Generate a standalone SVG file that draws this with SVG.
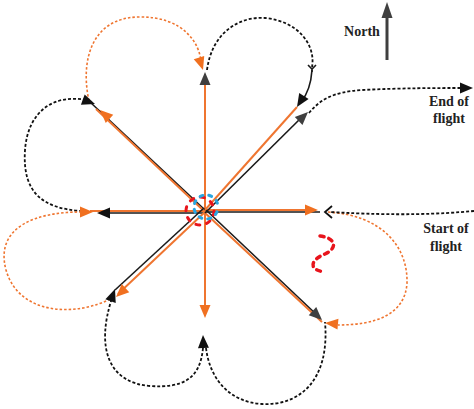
<svg xmlns="http://www.w3.org/2000/svg" xmlns:xlink="http://www.w3.org/1999/xlink" width="474" height="409" viewBox="0 0 474 409">
<style>
.or{stroke:#EF7530;stroke-width:2;fill:none}
.bk{stroke:#1a1a1a;stroke-width:1.6;fill:none}
.od{stroke:#EF7530;stroke-width:1.6;fill:none;stroke-dasharray:2.5 2}
.kd{stroke:#111;stroke-width:1.8;fill:none;stroke-dasharray:3 2}
.ko{fill:#111}
.gy{fill:#3f3f3f}
.oa{fill:#F07020}
.lbl{font-family:"Liberation Serif",serif;font-weight:bold;font-size:14px;fill:#222;text-anchor:middle}
</style>
<defs>
<path id="tri" d="M0,0 L-13,-5.5 L-13,5.5 Z"/>
</defs>
<rect width="474" height="409" fill="#fff"/>
<g id="connectors">
<!-- spokes -->
<line class="or" x1="205" y1="210" x2="205" y2="74"/>
<line class="or" x1="205" y1="210" x2="205" y2="310"/>
<line class="bk" x1="205" y1="213" x2="100" y2="213"/>
<line class="or" x1="205" y1="211" x2="90" y2="211"/>
<line class="bk" x1="205" y1="212" x2="320" y2="212"/>
<line class="or" x1="205" y1="210" x2="308" y2="210"/>
<line class="bk" x1="205" y1="210" x2="90" y2="102"/>
<line class="or" x1="206" y1="213" x2="96" y2="109"/>
<line class="bk" x1="204" y1="208" x2="115" y2="290"/>
<line class="or" x1="206" y1="211" x2="118" y2="294"/>
<line class="bk" x1="205" y1="209" x2="318" y2="316"/>
<line class="or" x1="204" y1="212" x2="322" y2="322"/>
<line class="or" x1="205" y1="210" x2="297" y2="107"/>
<line class="bk" x1="205" y1="213" x2="302" y2="117"/>
<!-- loops -->
<path class="od" d="M89,101 C 80,60 92,18 138,17 C 185,16 200,45 201,62"/>
<path class="kd" d="M207,70 C 212,32 240,16 265,18 C 298,21 316,45 312,67"/>
<path class="bk" d="M312,70 C 311,85 306,96 301,102"/>
<path class="bk" d="M308,65 L312,69 L316,65 M312,69 L312,72" stroke-width="1.3"/>
<path class="kd" d="M86,100 C 55,94 28,110 25,150 C 22,195 45,208 80,211"/>
<path class="od" d="M110,299 C 80,315 20,318 6,270 C -6,225 40,212 80,212"/>
<path class="kd" d="M203,348 C 200,380 182,388 150,386 C 110,383 95,350 112,298"/>
<path class="kd" d="M206,348 C 210,380 230,402 262,404 C 300,406 330,380 325,322"/>
<path class="od" d="M328,212 C 380,215 408,245 407,283 C 405,315 375,325 338,325"/>
<path class="kd" d="M474,211 C 440,214 400,216 330,212" stroke-width="2.4" stroke-dasharray="5 3"/>
<polyline points="332,206 325,212 332,218" fill="none" stroke="#111" stroke-width="1.8"/>
<path class="kd" d="M309,113 C 320,100 332,92 362,90 C 400,88 440,88 462,88"/>
<!-- arrowheads -->
<use href="#tri" class="gy" transform="translate(205,72) rotate(-90)"/>
<use href="#tri" class="oa" transform="translate(203,70) rotate(72)"/>
<use href="#tri" class="ko" transform="translate(95,104) rotate(20)"/>
<use href="#tri" class="oa" transform="translate(100,110) rotate(-137)"/>
<use href="#tri" class="oa" transform="translate(93,212) rotate(0)"/>
<use href="#tri" class="ko" transform="translate(97,213) rotate(180)"/>
<use href="#tri" class="ko" transform="translate(115,289) rotate(-70)"/>
<use href="#tri" class="oa" transform="translate(116,297) rotate(137)"/>
<use href="#tri" class="oa" transform="translate(205,318) rotate(90)"/>
<use href="#tri" class="ko" transform="translate(203,335) rotate(-92)"/>
<use href="#tri" class="gy" transform="translate(322,320) rotate(43)"/>
<use href="#tri" class="oa" transform="translate(325,323) rotate(185)"/>
<use href="#tri" class="oa" transform="translate(318,210) rotate(0)"/>
<use href="#tri" class="ko" transform="translate(297,107) rotate(122)"/>
<use href="#tri" class="gy" transform="translate(308,112) rotate(-44)"/>
<use href="#tri" class="ko" transform="translate(473,88) rotate(0)"/>
</g>
<g id="center-marks">
<circle cx="200" cy="211" r="14" fill="none" stroke="#E8141C" stroke-width="3" stroke-dasharray="4 7" stroke-linecap="round"/>
<circle cx="206" cy="207" r="12" fill="none" stroke="#2AA6E0" stroke-width="3" stroke-dasharray="3 6" stroke-dashoffset="4" stroke-linecap="round"/>
</g>
<g id="red-s">
<path d="M320,236 C 336,238 338,248 325,254 C 310,260 308,270 325,272" fill="none" stroke="#E8141C" stroke-width="3.5" stroke-dasharray="4 5" stroke-linecap="round"/>
</g>
<g id="north">
<line x1="387" y1="60" x2="387" y2="15" stroke="#3f3f3f" stroke-width="3"/>
<polygon points="387,2 381.5,18 392.5,18" fill="#3f3f3f"/>
<text class="lbl" x="362" y="36">North</text>
</g>
<g id="end-label">
<text class="lbl" x="449" y="106">End of</text>
<text class="lbl" x="449" y="123">flight</text>
</g>
<g id="start-label">
<text class="lbl" x="446" y="233">Start of</text>
<text class="lbl" x="446" y="251">flight</text>
</g>
</svg>
